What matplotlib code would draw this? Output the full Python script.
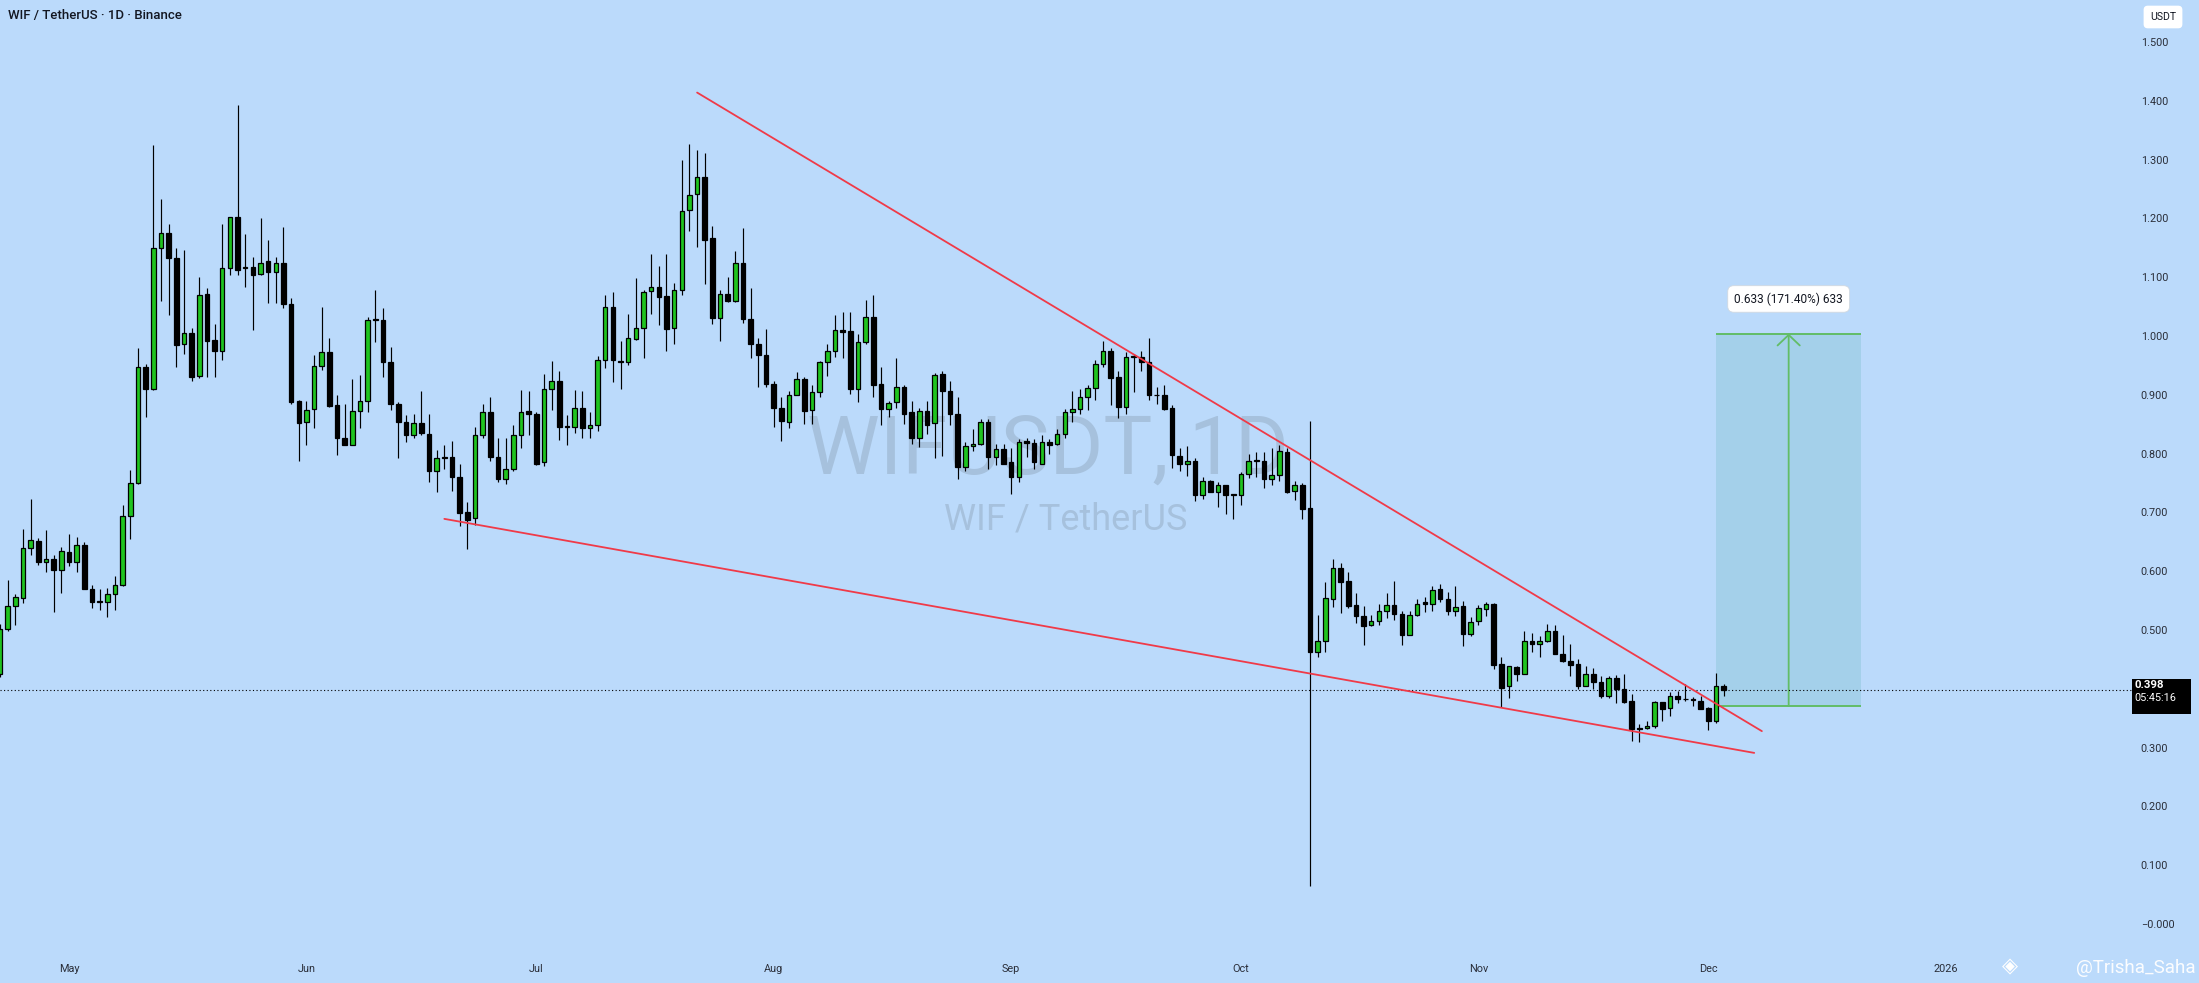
import matplotlib
matplotlib.use("Agg")
import matplotlib.pyplot as plt
import matplotlib.dates as mdates
import matplotlib.transforms as mtransforms
import numpy as np
import pandas as pd

# ---------------- data ----------------
start_date = "2025-04-22"
opens = [0.425, 0.501, 0.540, 0.555, 0.639, 0.651, 0.616, 0.620, 0.602, 0.632,
         0.616, 0.645, 0.569, 0.548, 0.548, 0.562, 0.576, 0.694, 0.750, 0.947,
         0.910, 1.149, 1.176, 1.132, 0.987, 1.005, 0.932, 1.071, 0.993, 0.975,
         1.116, 1.202, 1.115, 1.118, 1.105, 1.127, 1.109, 1.124, 1.055, 0.889,
         0.853, 0.876, 0.949, 0.972, 0.882, 0.826, 0.814, 0.873, 0.889, 1.028,
         1.028, 0.955, 0.885, 0.853, 0.832, 0.852, 0.834, 0.770, 0.792, 0.795,
         0.761, 0.700, 0.690, 0.831, 0.870, 0.795, 0.756, 0.773, 0.831, 0.872,
         0.867, 0.785, 0.910, 0.923, 0.845, 0.846, 0.878, 0.843, 0.848, 0.960,
         1.050, 0.958, 0.955, 0.995, 1.013, 1.076, 1.083, 1.068, 1.013, 1.078,
         1.214, 1.241, 1.271, 1.166, 1.031, 1.072, 1.060, 1.124, 1.029, 0.986,
         0.968, 0.918, 0.877, 0.854, 0.899, 0.927, 0.874, 0.904, 0.955, 0.975,
         1.010, 1.008, 0.910, 0.989, 1.033, 0.919, 0.876, 0.887, 0.913, 0.870,
         0.826, 0.872, 0.852, 0.936, 0.906, 0.867, 0.778, 0.813, 0.817, 0.854,
         0.794, 0.807, 0.786, 0.761, 0.822, 0.818, 0.783, 0.820, 0.816, 0.833,
         0.871, 0.876, 0.896, 0.911, 0.952, 0.975, 0.930, 0.879, 0.964, 0.964,
         0.956, 0.899, 0.899, 0.878, 0.796, 0.783, 0.788, 0.730, 0.754, 0.735,
         0.746, 0.729, 0.729, 0.766, 0.788, 0.787, 0.756, 0.763, 0.803, 0.736,
         0.747, 0.708, 0.463, 0.481, 0.553, 0.606, 0.584, 0.542, 0.523, 0.508,
         0.516, 0.532, 0.542, 0.527, 0.491, 0.525, 0.547, 0.545, 0.569, 0.552,
         0.533, 0.541, 0.494, 0.515, 0.536, 0.545, 0.442, 0.404, 0.437, 0.426,
         0.482, 0.476, 0.482, 0.499, 0.460, 0.448, 0.442, 0.404, 0.425, 0.411,
         0.388, 0.418, 0.399, 0.380, 0.333, 0.333, 0.336, 0.377, 0.368, 0.387,
         0.383, 0.382, 0.380, 0.368, 0.346, 0.404]
highs = [0.510, 0.585, 0.561, 0.672, 0.723, 0.656, 0.670, 0.627, 0.641, 0.664,
         0.658, 0.649, 0.576, 0.570, 0.571, 0.591, 0.712, 0.772, 0.980, 0.952,
         1.324, 1.233, 1.191, 1.150, 1.147, 1.014, 1.100, 1.081, 1.020, 1.191,
         1.202, 1.393, 1.173, 1.135, 1.201, 1.163, 1.135, 1.186, 1.064, 0.892,
         0.889, 0.968, 1.049, 0.996, 0.900, 0.884, 0.927, 0.934, 1.032, 1.078,
         1.047, 0.982, 0.887, 0.865, 0.867, 0.906, 0.867, 0.806, 0.815, 0.822,
         0.782, 0.718, 0.846, 0.884, 0.897, 0.826, 0.826, 0.848, 0.908, 0.906,
         0.870, 0.936, 0.958, 0.941, 0.866, 0.908, 0.906, 0.871, 0.966, 1.070,
         1.075, 0.992, 1.037, 1.099, 1.078, 1.139, 1.119, 1.139, 1.090, 1.299,
         1.327, 1.316, 1.311, 1.187, 1.078, 1.100, 1.145, 1.184, 1.081, 0.997,
         1.012, 0.923, 0.897, 0.906, 0.939, 0.930, 0.917, 0.958, 0.987, 1.036,
         1.040, 1.040, 1.003, 1.061, 1.070, 0.947, 0.890, 0.962, 0.917, 0.889,
         0.878, 0.889, 0.937, 0.940, 0.923, 0.897, 0.820, 0.842, 0.858, 0.858,
         0.817, 0.817, 0.809, 0.824, 0.826, 0.824, 0.832, 0.825, 0.842, 0.876,
         0.906, 0.910, 0.917, 0.960, 0.992, 0.980, 0.941, 0.972, 0.969, 0.975,
         0.997, 0.914, 0.916, 0.882, 0.809, 0.813, 0.792, 0.761, 0.755, 0.751,
         0.746, 0.731, 0.768, 0.799, 0.802, 0.803, 0.809, 0.815, 0.809, 0.753,
         0.750, 0.855, 0.526, 0.582, 0.621, 0.614, 0.598, 0.563, 0.540, 0.526,
         0.544, 0.563, 0.584, 0.533, 0.532, 0.553, 0.556, 0.575, 0.579, 0.564,
         0.575, 0.550, 0.522, 0.542, 0.548, 0.546, 0.454, 0.439, 0.439, 0.499,
         0.495, 0.489, 0.510, 0.508, 0.491, 0.477, 0.450, 0.438, 0.435, 0.421,
         0.421, 0.423, 0.425, 0.391, 0.340, 0.346, 0.380, 0.378, 0.394, 0.396,
         0.408, 0.386, 0.388, 0.369, 0.427, 0.409]
lows = [0.420, 0.499, 0.509, 0.546, 0.627, 0.610, 0.598, 0.531, 0.563, 0.609,
        0.599, 0.569, 0.537, 0.534, 0.522, 0.534, 0.574, 0.655, 0.748, 0.863,
        0.908, 1.059, 1.035, 0.948, 0.969, 0.923, 0.928, 0.931, 0.931, 0.960,
        1.104, 1.104, 1.083, 1.011, 1.103, 1.056, 1.056, 1.047, 0.885, 0.788,
        0.815, 0.843, 0.942, 0.879, 0.798, 0.814, 0.814, 0.843, 0.871, 0.990,
        0.930, 0.875, 0.793, 0.820, 0.827, 0.832, 0.751, 0.735, 0.774, 0.737,
        0.677, 0.637, 0.678, 0.826, 0.787, 0.751, 0.749, 0.771, 0.810, 0.832,
        0.781, 0.779, 0.874, 0.823, 0.815, 0.835, 0.826, 0.827, 0.838, 0.945,
        0.921, 0.910, 0.951, 0.993, 0.963, 1.037, 1.018, 0.975, 0.986, 1.069,
        1.179, 1.151, 1.089, 1.020, 0.992, 1.058, 1.058, 1.022, 0.962, 0.913,
        0.914, 0.846, 0.821, 0.843, 0.899, 0.851, 0.850, 0.896, 0.932, 0.965,
        0.963, 0.902, 0.887, 0.986, 0.897, 0.849, 0.863, 0.878, 0.851, 0.816,
        0.812, 0.834, 0.793, 0.796, 0.849, 0.757, 0.770, 0.804, 0.814, 0.774,
        0.781, 0.783, 0.732, 0.752, 0.794, 0.774, 0.783, 0.800, 0.815, 0.827,
        0.854, 0.868, 0.874, 0.892, 0.947, 0.882, 0.861, 0.868, 0.904, 0.940,
        0.891, 0.885, 0.875, 0.776, 0.771, 0.762, 0.720, 0.722, 0.735, 0.709,
        0.697, 0.689, 0.713, 0.758, 0.760, 0.742, 0.747, 0.754, 0.733, 0.721,
        0.689, 0.064, 0.454, 0.462, 0.539, 0.529, 0.538, 0.512, 0.474, 0.507,
        0.508, 0.520, 0.517, 0.475, 0.491, 0.524, 0.531, 0.533, 0.548, 0.525,
        0.524, 0.473, 0.490, 0.509, 0.523, 0.433, 0.369, 0.385, 0.414, 0.425,
        0.462, 0.454, 0.479, 0.460, 0.445, 0.422, 0.400, 0.404, 0.399, 0.384,
        0.384, 0.376, 0.376, 0.312, 0.310, 0.331, 0.333, 0.346, 0.354, 0.376,
        0.380, 0.371, 0.366, 0.330, 0.342, 0.387]
closes = [0.502, 0.540, 0.556, 0.639, 0.653, 0.615, 0.620, 0.602, 0.634, 0.616,
          0.644, 0.569, 0.548, 0.549, 0.562, 0.576, 0.694, 0.750, 0.947, 0.910,
          1.149, 1.176, 1.132, 0.985, 1.005, 0.931, 1.069, 0.992, 0.975, 1.115,
          1.202, 1.113, 1.118, 1.103, 1.125, 1.109, 1.124, 1.055, 0.887, 0.852,
          0.875, 0.949, 0.972, 0.881, 0.826, 0.814, 0.872, 0.889, 1.028, 1.027,
          0.956, 0.885, 0.853, 0.832, 0.852, 0.835, 0.770, 0.792, 0.794, 0.761,
          0.699, 0.687, 0.831, 0.870, 0.795, 0.756, 0.773, 0.831, 0.870, 0.867,
          0.783, 0.910, 0.923, 0.845, 0.846, 0.878, 0.843, 0.848, 0.960, 1.050,
          0.960, 0.955, 0.996, 1.013, 1.074, 1.083, 1.066, 1.012, 1.078, 1.212,
          1.239, 1.271, 1.164, 1.031, 1.072, 1.060, 1.124, 1.029, 0.986, 0.968,
          0.919, 0.878, 0.855, 0.899, 0.927, 0.872, 0.904, 0.955, 0.975, 1.010,
          1.007, 0.910, 0.989, 1.032, 0.917, 0.876, 0.886, 0.913, 0.868, 0.827,
          0.872, 0.849, 0.933, 0.906, 0.867, 0.778, 0.813, 0.817, 0.854, 0.794,
          0.807, 0.783, 0.761, 0.819, 0.818, 0.785, 0.819, 0.815, 0.833, 0.870,
          0.876, 0.896, 0.912, 0.952, 0.975, 0.929, 0.879, 0.964, 0.965, 0.955,
          0.899, 0.900, 0.876, 0.797, 0.783, 0.788, 0.729, 0.753, 0.735, 0.746,
          0.729, 0.730, 0.765, 0.788, 0.787, 0.756, 0.763, 0.804, 0.735, 0.747,
          0.706, 0.463, 0.481, 0.554, 0.605, 0.582, 0.541, 0.523, 0.506, 0.516,
          0.532, 0.543, 0.527, 0.491, 0.525, 0.545, 0.545, 0.568, 0.552, 0.533,
          0.539, 0.494, 0.514, 0.537, 0.545, 0.441, 0.402, 0.438, 0.426, 0.482,
          0.477, 0.481, 0.499, 0.460, 0.448, 0.441, 0.404, 0.425, 0.411, 0.388,
          0.418, 0.399, 0.378, 0.331, 0.331, 0.336, 0.377, 0.366, 0.387, 0.383,
          0.382, 0.381, 0.366, 0.346, 0.404, 0.398]

month_ticks = ["2025-05-01", "2025-06-01", "2025-07-01", "2025-08-01", "2025-09-01",
               "2025-10-01", "2025-11-01", "2025-12-01", "2026-01-01"]
month_labels = ["May", "Jun", "Jul", "Aug", "Sep", "Oct", "Nov", "Dec", "2026"]
price_ticks = [0.0, 0.1, 0.2, 0.3, 0.5, 0.6, 0.7, 0.8, 0.9, 1.0, 1.1, 1.2, 1.3, 1.4, 1.5]
price_tick_labels = ["\u22120.000", "0.100", "0.200", "0.300", "0.500", "0.600", "0.700",
                     "0.800", "0.900", "1.000", "1.100", "1.200", "1.300", "1.400", "1.500"]

upper_line_dates = ["2025-07-22", "2025-12-08"]
upper_line_prices = [1.414, 0.328]
lower_line_dates = ["2025-06-19", "2025-12-07"]
lower_line_prices = [0.689, 0.291]

measure_dates = ["2025-12-02", "2025-12-21"]
measure_prices = [0.371, 1.004]
measure_label = "0.633 (171.40%) 633"

title_text = "WIF / TetherUS \u00b7 1D \u00b7 Binance"
watermark_big = "WIFUSDT, 1D"
watermark_small = "WIF / TetherUS"
countdown_text = "05:45:16"
currency_text = "USDT"
author_text = "@Trisha_Saha"

# ---------------- style ----------------
BG = "#bbdafb"
GREEN = "#1fc41f"
RED_LINE = "#f03a48"
MEASURE_GREEN = "#62bd66"
MEASURE_FILL = "#a4d0ea"
TEXT = "#2a2e39"
FONT = ["Roboto", "DejaVu Sans"]

plt.rcParams["font.family"] = FONT

W, H = 2199, 983
fig = plt.figure(figsize=(W / 100, H / 100), dpi=100)
fig.patch.set_facecolor(BG)

ax_right_px = 2120
ax_bottom_px = 950
ax = fig.add_axes([0, (H - ax_bottom_px) / H, ax_right_px / W, ax_bottom_px / H])
ax.set_facecolor(BG)
for s in ax.spines.values():
    s.set_visible(False)

# price mapping: y_px = 924 - 588 * p
px_per_unit = 588.0
zero_px = 924.0
ax.set_ylim((zero_px - ax_bottom_px) / px_per_unit, zero_px / px_per_unit)

dates = pd.date_range(start_date, periods=len(opens), freq="D")
x = mdates.date2num(dates.to_pydatetime())
may1 = mdates.date2num(pd.Timestamp("2025-05-01").to_pydatetime())
px_per_day = 7.66
first_px = 69.0
ax.set_xlim(may1 - first_px / px_per_day, may1 + (ax_right_px - first_px) / px_per_day)

o = np.array(opens)
h = np.array(highs)
l = np.array(lows)
c = np.array(closes)
up = c >= o
body_colors = np.where(up, GREEN, "black")
body_bottom = np.minimum(o, c)
body_h = np.maximum(np.abs(c - o), 0.0015)

# watermark (behind everything in the axes)
ax.text(1048 / W, 1 - 452 / H, watermark_big, transform=fig.transFigure, ha="center",
        va="center", fontsize=59, color="#a6c1dd", zorder=0.2)
ax.text(1066 / W, 1 - 519 / H, watermark_small, transform=fig.transFigure, ha="center",
        va="center", fontsize=26, color="#a6c1dd", zorder=0.2)

# measure box (behind candles)
m0, m1 = mdates.date2num([pd.Timestamp(d).to_pydatetime() for d in measure_dates])
ax.fill_between([m0, m1], measure_prices[0], measure_prices[1], color=MEASURE_FILL, lw=0, zorder=1)
ax.hlines(measure_prices, m0, m1, color=MEASURE_GREEN, lw=1.4, zorder=1.5)
mid = (m0 + m1) / 2
ax.annotate("", xy=(mid, measure_prices[1]), xytext=(mid, measure_prices[0]),
            arrowprops=dict(arrowstyle="->,head_length=0.38,head_width=0.4", color=MEASURE_GREEN,
                            lw=1.3, shrinkA=0, shrinkB=0, mutation_scale=20), zorder=1.6)
ax.text(mid, measure_prices[1] + 0.059, measure_label, ha="center", va="center", fontsize=8.6,
        color="#131722", zorder=6,
        bbox=dict(boxstyle="round,pad=0.55,rounding_size=0.5", fc="white", ec="#d0d8e0", lw=0.6))

# candles
ax.vlines(x, l, h, color="black", lw=0.85, zorder=3)
ax.bar(x, body_h, bottom=body_bottom, width=0.6, color=body_colors, edgecolor="black",
       linewidth=0.9, zorder=4)

# trend lines
ud = mdates.date2num([pd.Timestamp(d).to_pydatetime() for d in upper_line_dates])
ld = mdates.date2num([pd.Timestamp(d).to_pydatetime() for d in lower_line_dates])
ax.plot(ud, upper_line_prices, color=RED_LINE, lw=1.3, zorder=5, solid_capstyle="round")
ax.plot(ld, lower_line_prices, color=RED_LINE, lw=1.3, zorder=5, solid_capstyle="round")

# last price dotted line
blend = mtransforms.blended_transform_factory(ax.transAxes, ax.transData)
ax.plot([0, 1.006], [closes[-1], closes[-1]], transform=blend, color="black", lw=0.8,
        ls=(0, (1, 2.2)), clip_on=False, zorder=2)
ax.text(1.0068, closes[-1] + 0.008, f"{closes[-1]:.3f}", transform=blend,
        ha="left", va="center", fontsize=8.2, color="white", fontweight="bold", zorder=8)
ax.text(1.0068, closes[-1] - 0.013, countdown_text, transform=blend,
        ha="left", va="center", fontsize=7.8, color="white", zorder=8)
ax.fill_between([1.0058, 1.0334], closes[-1] - 0.0405, closes[-1] + 0.0185, transform=blend,
                color="black", lw=0, clip_on=False, zorder=7)

# axes ticks
ax.yaxis.tick_right()
ax.set_yticks(price_ticks)
ax.set_yticklabels(price_tick_labels)
ax.tick_params(axis="y", length=0, pad=15, labelsize=7.8, labelcolor=TEXT)
ax.set_xticks(mdates.date2num([pd.Timestamp(d).to_pydatetime() for d in month_ticks]))
ax.set_xticklabels(month_labels)
ax.tick_params(axis="x", length=0, pad=10, labelsize=7.8, labelcolor=TEXT)
ax.grid(False)

# header and labels
fig.text(8 / W, 1 - 16 / H, title_text, ha="left", va="center", fontsize=9.5,
         color="#131722", fontweight="medium")
fig.text(2163 / W, 1 - 17 / H, currency_text, ha="center", va="center", fontsize=7.6,
         color="#131722",
         bbox=dict(boxstyle="round,pad=0.6,rounding_size=0.4", fc="white", ec="none"))
fig.text(2196 / W, 1 - 968 / H, author_text, ha="right", va="center", fontsize=13.5,
         color="white", alpha=0.95)
fig.text(2010 / W, 1 - 966 / H, "\u25c8", ha="center", va="center", fontsize=15,
         color="white", family=["DejaVu Sans"])

fig.savefig("out.png", dpi=100, facecolor=BG)
